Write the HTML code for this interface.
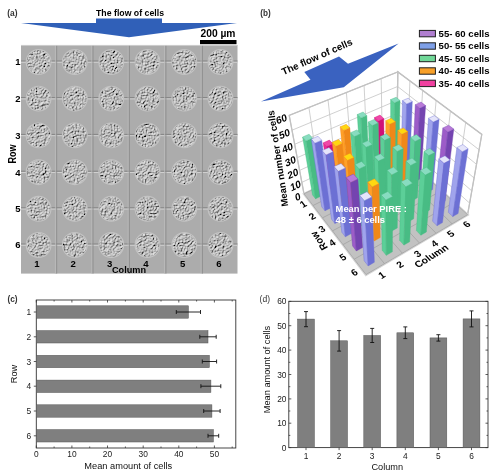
<!DOCTYPE html>
<html><head><meta charset="utf-8"><style>html,body{margin:0;padding:0;background:#fff;}svg{display:block;will-change:transform;filter:blur(0.35px);}</style></head>
<body><svg width="500" height="476" viewBox="0 0 500 476"><defs>
<filter id="tex" x="-10%" y="-10%" width="120%" height="120%">
<feTurbulence type="fractalNoise" baseFrequency="0.9" numOctaves="2" seed="5" result="n"/>
<feColorMatrix in="n" type="matrix" values="0 0 0 0 0  0 0 0 0 0  0 0 0 0 0  1 0 0 0 0" result="a"/>
<feDiffuseLighting in="a" surfaceScale="3.5" diffuseConstant="1" lighting-color="#e2e2e2" result="l"><feDistantLight azimuth="225" elevation="42"/></feDiffuseLighting>
<feComposite in="l" in2="SourceGraphic" operator="in"/>
</filter>
</defs>
<text x="7.2" y="15.8" font-size="8.4" font-weight="bold" fill="#333" font-family="'Liberation Sans', sans-serif">(a)</text>
<text x="130" y="16.3" font-size="9.6" font-weight="bold" text-anchor="middle" font-family="'Liberation Sans', sans-serif" textLength="68" lengthAdjust="spacingAndGlyphs">The flow of cells</text>
<polygon points="21,23 96,23 96,18.6 162,18.6 162,23 237,23 129,37.2" fill="#3060b8"/>
<text x="218" y="37.2" font-size="10" font-weight="bold" text-anchor="middle" font-family="'Liberation Sans', sans-serif" textLength="35" lengthAdjust="spacingAndGlyphs">200 µm</text>
<rect x="200" y="40" width="36.5" height="4.2" fill="#000"/>
<rect x="21" y="45" width="216.5" height="228.6" fill="#acacac"/>
<line x1="21" y1="61.0" x2="237.5" y2="61.0" stroke="#848484" stroke-width="1"/><line x1="21" y1="62.3" x2="237.5" y2="62.3" stroke="#d0d0d0" stroke-width="1"/><line x1="21" y1="97.6" x2="237.5" y2="97.6" stroke="#848484" stroke-width="1"/><line x1="21" y1="98.9" x2="237.5" y2="98.9" stroke="#d0d0d0" stroke-width="1"/><line x1="21" y1="134.4" x2="237.5" y2="134.4" stroke="#848484" stroke-width="1"/><line x1="21" y1="135.7" x2="237.5" y2="135.7" stroke="#d0d0d0" stroke-width="1"/><line x1="21" y1="171.2" x2="237.5" y2="171.2" stroke="#848484" stroke-width="1"/><line x1="21" y1="172.5" x2="237.5" y2="172.5" stroke="#d0d0d0" stroke-width="1"/><line x1="21" y1="207.8" x2="237.5" y2="207.8" stroke="#848484" stroke-width="1"/><line x1="21" y1="209.1" x2="237.5" y2="209.1" stroke="#d0d0d0" stroke-width="1"/><line x1="21" y1="244.0" x2="237.5" y2="244.0" stroke="#848484" stroke-width="1"/><line x1="21" y1="245.3" x2="237.5" y2="245.3" stroke="#d0d0d0" stroke-width="1"/><line x1="55.4" y1="45" x2="55.4" y2="273.6" stroke="#bdbdbd" stroke-width="0.8"/><line x1="56.7" y1="45" x2="56.7" y2="273.6" stroke="#8c8c8c" stroke-width="0.9"/><line x1="91.8" y1="45" x2="91.8" y2="273.6" stroke="#bdbdbd" stroke-width="0.8"/><line x1="93.0" y1="45" x2="93.0" y2="273.6" stroke="#8c8c8c" stroke-width="0.9"/><line x1="128.1" y1="45" x2="128.1" y2="273.6" stroke="#bdbdbd" stroke-width="0.8"/><line x1="129.4" y1="45" x2="129.4" y2="273.6" stroke="#8c8c8c" stroke-width="0.9"/><line x1="164.6" y1="45" x2="164.6" y2="273.6" stroke="#bdbdbd" stroke-width="0.8"/><line x1="165.9" y1="45" x2="165.9" y2="273.6" stroke="#8c8c8c" stroke-width="0.9"/><line x1="201.1" y1="45" x2="201.1" y2="273.6" stroke="#bdbdbd" stroke-width="0.8"/><line x1="202.4" y1="45" x2="202.4" y2="273.6" stroke="#8c8c8c" stroke-width="0.9"/><line x1="21" y1="45.4" x2="237.5" y2="45.4" stroke="#d8d8d8" stroke-width="0.8"/>
<circle cx="38.6" cy="62.0" r="12.4" fill="#acacac" stroke="#c4c4c4" stroke-width="1.1"/>
<circle cx="38.6" cy="62.0" r="11.8" fill="#a0a0a0" filter="url(#tex)" />
<circle cx="74.8" cy="62.0" r="12.4" fill="#acacac" stroke="#c4c4c4" stroke-width="1.1"/>
<circle cx="74.8" cy="62.0" r="11.8" fill="#a0a0a0" filter="url(#tex)" />
<circle cx="111.3" cy="62.0" r="12.4" fill="#acacac" stroke="#c4c4c4" stroke-width="1.1"/>
<circle cx="111.3" cy="62.0" r="11.8" fill="#a0a0a0" filter="url(#tex)" />
<circle cx="147.5" cy="62.0" r="12.4" fill="#acacac" stroke="#c4c4c4" stroke-width="1.1"/>
<circle cx="147.5" cy="62.0" r="11.8" fill="#a0a0a0" filter="url(#tex)" />
<circle cx="184.3" cy="62.0" r="12.4" fill="#acacac" stroke="#c4c4c4" stroke-width="1.1"/>
<circle cx="184.3" cy="62.0" r="11.8" fill="#a0a0a0" filter="url(#tex)" />
<circle cx="220.5" cy="62.0" r="12.4" fill="#acacac" stroke="#c4c4c4" stroke-width="1.1"/>
<circle cx="220.5" cy="62.0" r="11.8" fill="#a0a0a0" filter="url(#tex)" />
<circle cx="38.6" cy="98.6" r="12.4" fill="#acacac" stroke="#c4c4c4" stroke-width="1.1"/>
<circle cx="38.6" cy="98.6" r="11.8" fill="#a0a0a0" filter="url(#tex)" />
<circle cx="74.8" cy="98.6" r="12.4" fill="#acacac" stroke="#c4c4c4" stroke-width="1.1"/>
<circle cx="74.8" cy="98.6" r="11.8" fill="#a0a0a0" filter="url(#tex)" />
<circle cx="111.3" cy="98.6" r="12.4" fill="#acacac" stroke="#c4c4c4" stroke-width="1.1"/>
<circle cx="111.3" cy="98.6" r="11.8" fill="#a0a0a0" filter="url(#tex)" />
<circle cx="147.5" cy="98.6" r="12.4" fill="#acacac" stroke="#c4c4c4" stroke-width="1.1"/>
<circle cx="147.5" cy="98.6" r="11.8" fill="#a0a0a0" filter="url(#tex)" />
<circle cx="184.3" cy="98.6" r="12.4" fill="#acacac" stroke="#c4c4c4" stroke-width="1.1"/>
<circle cx="184.3" cy="98.6" r="11.8" fill="#a0a0a0" filter="url(#tex)" />
<circle cx="220.5" cy="98.6" r="12.4" fill="#acacac" stroke="#c4c4c4" stroke-width="1.1"/>
<circle cx="220.5" cy="98.6" r="11.8" fill="#a0a0a0" filter="url(#tex)" />
<circle cx="38.6" cy="135.4" r="12.4" fill="#acacac" stroke="#c4c4c4" stroke-width="1.1"/>
<circle cx="38.6" cy="135.4" r="11.8" fill="#a0a0a0" filter="url(#tex)" />
<circle cx="74.8" cy="135.4" r="12.4" fill="#acacac" stroke="#c4c4c4" stroke-width="1.1"/>
<circle cx="74.8" cy="135.4" r="11.8" fill="#a0a0a0" filter="url(#tex)" />
<circle cx="111.3" cy="135.4" r="12.4" fill="#acacac" stroke="#c4c4c4" stroke-width="1.1"/>
<circle cx="111.3" cy="135.4" r="11.8" fill="#a0a0a0" filter="url(#tex)" />
<circle cx="147.5" cy="135.4" r="12.4" fill="#acacac" stroke="#c4c4c4" stroke-width="1.1"/>
<circle cx="147.5" cy="135.4" r="11.8" fill="#a0a0a0" filter="url(#tex)" />
<circle cx="184.3" cy="135.4" r="12.4" fill="#acacac" stroke="#c4c4c4" stroke-width="1.1"/>
<circle cx="184.3" cy="135.4" r="11.8" fill="#a0a0a0" filter="url(#tex)" />
<circle cx="220.5" cy="135.4" r="12.4" fill="#acacac" stroke="#c4c4c4" stroke-width="1.1"/>
<circle cx="220.5" cy="135.4" r="11.8" fill="#a0a0a0" filter="url(#tex)" />
<circle cx="38.6" cy="172.2" r="12.4" fill="#acacac" stroke="#c4c4c4" stroke-width="1.1"/>
<circle cx="38.6" cy="172.2" r="11.8" fill="#a0a0a0" filter="url(#tex)" />
<circle cx="74.8" cy="172.2" r="12.4" fill="#acacac" stroke="#c4c4c4" stroke-width="1.1"/>
<circle cx="74.8" cy="172.2" r="11.8" fill="#a0a0a0" filter="url(#tex)" />
<circle cx="111.3" cy="172.2" r="12.4" fill="#acacac" stroke="#c4c4c4" stroke-width="1.1"/>
<circle cx="111.3" cy="172.2" r="11.8" fill="#a0a0a0" filter="url(#tex)" />
<circle cx="147.5" cy="172.2" r="12.4" fill="#acacac" stroke="#c4c4c4" stroke-width="1.1"/>
<circle cx="147.5" cy="172.2" r="11.8" fill="#a0a0a0" filter="url(#tex)" />
<circle cx="184.3" cy="172.2" r="12.4" fill="#acacac" stroke="#c4c4c4" stroke-width="1.1"/>
<circle cx="184.3" cy="172.2" r="11.8" fill="#a0a0a0" filter="url(#tex)" />
<circle cx="220.5" cy="172.2" r="12.4" fill="#acacac" stroke="#c4c4c4" stroke-width="1.1"/>
<circle cx="220.5" cy="172.2" r="11.8" fill="#a0a0a0" filter="url(#tex)" />
<circle cx="38.6" cy="208.8" r="12.4" fill="#acacac" stroke="#c4c4c4" stroke-width="1.1"/>
<circle cx="38.6" cy="208.8" r="11.8" fill="#a0a0a0" filter="url(#tex)" />
<circle cx="74.8" cy="208.8" r="12.4" fill="#acacac" stroke="#c4c4c4" stroke-width="1.1"/>
<circle cx="74.8" cy="208.8" r="11.8" fill="#a0a0a0" filter="url(#tex)" />
<circle cx="111.3" cy="208.8" r="12.4" fill="#acacac" stroke="#c4c4c4" stroke-width="1.1"/>
<circle cx="111.3" cy="208.8" r="11.8" fill="#a0a0a0" filter="url(#tex)" />
<circle cx="147.5" cy="208.8" r="12.4" fill="#acacac" stroke="#c4c4c4" stroke-width="1.1"/>
<circle cx="147.5" cy="208.8" r="11.8" fill="#a0a0a0" filter="url(#tex)" />
<circle cx="184.3" cy="208.8" r="12.4" fill="#acacac" stroke="#c4c4c4" stroke-width="1.1"/>
<circle cx="184.3" cy="208.8" r="11.8" fill="#a0a0a0" filter="url(#tex)" />
<circle cx="220.5" cy="208.8" r="12.4" fill="#acacac" stroke="#c4c4c4" stroke-width="1.1"/>
<circle cx="220.5" cy="208.8" r="11.8" fill="#a0a0a0" filter="url(#tex)" />
<circle cx="38.6" cy="245.0" r="12.4" fill="#acacac" stroke="#c4c4c4" stroke-width="1.1"/>
<circle cx="38.6" cy="245.0" r="11.8" fill="#a0a0a0" filter="url(#tex)" />
<circle cx="74.8" cy="245.0" r="12.4" fill="#acacac" stroke="#c4c4c4" stroke-width="1.1"/>
<circle cx="74.8" cy="245.0" r="11.8" fill="#a0a0a0" filter="url(#tex)" />
<circle cx="111.3" cy="245.0" r="12.4" fill="#acacac" stroke="#c4c4c4" stroke-width="1.1"/>
<circle cx="111.3" cy="245.0" r="11.8" fill="#a0a0a0" filter="url(#tex)" />
<circle cx="147.5" cy="245.0" r="12.4" fill="#acacac" stroke="#c4c4c4" stroke-width="1.1"/>
<circle cx="147.5" cy="245.0" r="11.8" fill="#a0a0a0" filter="url(#tex)" />
<circle cx="184.3" cy="245.0" r="12.4" fill="#acacac" stroke="#c4c4c4" stroke-width="1.1"/>
<circle cx="184.3" cy="245.0" r="11.8" fill="#a0a0a0" filter="url(#tex)" />
<circle cx="220.5" cy="245.0" r="12.4" fill="#acacac" stroke="#c4c4c4" stroke-width="1.1"/>
<circle cx="220.5" cy="245.0" r="11.8" fill="#a0a0a0" filter="url(#tex)" />
<text x="17.8" y="65.4" font-size="9.5" font-weight="bold" text-anchor="middle" font-family="'Liberation Sans', sans-serif">1</text>
<text x="17.8" y="102.0" font-size="9.5" font-weight="bold" text-anchor="middle" font-family="'Liberation Sans', sans-serif">2</text>
<text x="17.8" y="138.8" font-size="9.5" font-weight="bold" text-anchor="middle" font-family="'Liberation Sans', sans-serif">3</text>
<text x="17.8" y="175.6" font-size="9.5" font-weight="bold" text-anchor="middle" font-family="'Liberation Sans', sans-serif">4</text>
<text x="17.8" y="212.2" font-size="9.5" font-weight="bold" text-anchor="middle" font-family="'Liberation Sans', sans-serif">5</text>
<text x="17.8" y="248.4" font-size="9.5" font-weight="bold" text-anchor="middle" font-family="'Liberation Sans', sans-serif">6</text>
<text transform="translate(15.9,154) rotate(-90)" font-size="10.2" font-weight="bold" text-anchor="middle" font-family="'Liberation Sans', sans-serif" textLength="19" lengthAdjust="spacingAndGlyphs">Row</text>
<text x="36.9" y="267.2" font-size="9.6" font-weight="bold" text-anchor="middle" font-family="'Liberation Sans', sans-serif">1</text>
<text x="73.1" y="267.2" font-size="9.6" font-weight="bold" text-anchor="middle" font-family="'Liberation Sans', sans-serif">2</text>
<text x="109.6" y="267.2" font-size="9.6" font-weight="bold" text-anchor="middle" font-family="'Liberation Sans', sans-serif">3</text>
<text x="145.8" y="267.2" font-size="9.6" font-weight="bold" text-anchor="middle" font-family="'Liberation Sans', sans-serif">4</text>
<text x="182.6" y="267.2" font-size="9.6" font-weight="bold" text-anchor="middle" font-family="'Liberation Sans', sans-serif">5</text>
<text x="218.8" y="267.2" font-size="9.6" font-weight="bold" text-anchor="middle" font-family="'Liberation Sans', sans-serif">6</text>
<text x="129" y="273.4" font-size="9.4" font-weight="bold" text-anchor="middle" font-family="'Liberation Sans', sans-serif" textLength="34" lengthAdjust="spacingAndGlyphs">Column</text>
<text x="260.2" y="15.8" font-size="8.2" font-weight="bold" fill="#333" font-family="'Liberation Sans', sans-serif">(b)</text>
<polygon points="261,101.4 310.5,79.8 304.3,72 339,56.4 348,63.8 398.6,43.6 343.8,87.2" fill="#3a62c0"/>
<text transform="translate(318.3,59.8) rotate(-24)" font-size="9.8" font-weight="bold" text-anchor="middle" font-family="'Liberation Sans', sans-serif">The flow of cells</text>
<rect x="419.4" y="30.4" width="16" height="6.4" fill="#b07ed0" stroke="#202020" stroke-width="1"/>
<text x="438.6" y="37.0" font-size="9.55" font-weight="bold" font-family="'Liberation Sans', sans-serif">55- 60 cells</text>
<rect x="419.4" y="42.8" width="16" height="6.4" fill="#7fa0e8" stroke="#202020" stroke-width="1"/>
<text x="438.6" y="49.4" font-size="9.55" font-weight="bold" font-family="'Liberation Sans', sans-serif">50- 55 cells</text>
<rect x="419.4" y="55.3" width="16" height="6.4" fill="#70d898" stroke="#202020" stroke-width="1"/>
<text x="438.6" y="61.9" font-size="9.55" font-weight="bold" font-family="'Liberation Sans', sans-serif">45- 50 cells</text>
<rect x="419.4" y="67.8" width="16" height="6.4" fill="#f8a028" stroke="#202020" stroke-width="1"/>
<text x="438.6" y="74.3" font-size="9.55" font-weight="bold" font-family="'Liberation Sans', sans-serif">40- 45 cells</text>
<rect x="419.4" y="80.2" width="16" height="6.4" fill="#f040a0" stroke="#202020" stroke-width="1"/>
<text x="438.6" y="86.8" font-size="9.55" font-weight="bold" font-family="'Liberation Sans', sans-serif">35- 40 cells</text>
<polygon points="304.0,193.8 396.8,149.4 397.8,71.9 289.2,115.3" fill="#fff" stroke="#bcbcbc" stroke-width="1.3"/>
<polygon points="396.8,149.4 467.6,214.7 481.8,134.4 397.8,71.9" fill="#fff" stroke="#bcbcbc" stroke-width="1.3"/>
<line x1="304.0" y1="193.8" x2="289.2" y2="115.3" stroke="#c4c4c4" stroke-width="0.8"/><line x1="320.7" y1="185.8" x2="308.9" y2="107.4" stroke="#c4c4c4" stroke-width="0.8"/><line x1="336.8" y1="178.1" x2="328.0" y2="99.8" stroke="#c4c4c4" stroke-width="0.8"/><line x1="352.5" y1="170.6" x2="346.4" y2="92.5" stroke="#c4c4c4" stroke-width="0.8"/><line x1="367.7" y1="163.3" x2="364.1" y2="85.4" stroke="#c4c4c4" stroke-width="0.8"/><line x1="382.5" y1="156.2" x2="381.2" y2="78.5" stroke="#c4c4c4" stroke-width="0.8"/><line x1="396.8" y1="149.4" x2="397.8" y2="71.9" stroke="#c4c4c4" stroke-width="0.8"/><line x1="396.8" y1="149.4" x2="397.8" y2="71.9" stroke="#c4c4c4" stroke-width="0.8"/><line x1="407.2" y1="158.9" x2="409.9" y2="80.9" stroke="#c4c4c4" stroke-width="0.8"/><line x1="418.1" y1="169.0" x2="422.6" y2="90.4" stroke="#c4c4c4" stroke-width="0.8"/><line x1="429.5" y1="179.6" x2="436.1" y2="100.4" stroke="#c4c4c4" stroke-width="0.8"/><line x1="441.6" y1="190.7" x2="450.4" y2="111.1" stroke="#c4c4c4" stroke-width="0.8"/><line x1="454.2" y1="202.4" x2="465.7" y2="122.4" stroke="#c4c4c4" stroke-width="0.8"/><line x1="467.6" y1="214.7" x2="481.8" y2="134.4" stroke="#c4c4c4" stroke-width="0.8"/><line x1="304.0" y1="193.8" x2="396.8" y2="149.4" stroke="#c4c4c4" stroke-width="0.8"/><line x1="396.8" y1="149.4" x2="467.6" y2="214.7" stroke="#c4c4c4" stroke-width="0.8"/><line x1="301.8" y1="182.4" x2="396.9" y2="137.9" stroke="#c4c4c4" stroke-width="0.8"/><line x1="396.9" y1="137.9" x2="469.6" y2="203.1" stroke="#c4c4c4" stroke-width="0.8"/><line x1="299.6" y1="170.4" x2="397.1" y2="126.0" stroke="#c4c4c4" stroke-width="0.8"/><line x1="397.1" y1="126.0" x2="471.8" y2="190.9" stroke="#c4c4c4" stroke-width="0.8"/><line x1="297.2" y1="157.7" x2="397.3" y2="113.4" stroke="#c4c4c4" stroke-width="0.8"/><line x1="397.3" y1="113.4" x2="474.1" y2="178.0" stroke="#c4c4c4" stroke-width="0.8"/><line x1="294.6" y1="144.3" x2="397.4" y2="100.3" stroke="#c4c4c4" stroke-width="0.8"/><line x1="397.4" y1="100.3" x2="476.5" y2="164.3" stroke="#c4c4c4" stroke-width="0.8"/><line x1="292.0" y1="130.2" x2="397.6" y2="86.5" stroke="#c4c4c4" stroke-width="0.8"/><line x1="397.6" y1="86.5" x2="479.1" y2="149.8" stroke="#c4c4c4" stroke-width="0.8"/><line x1="289.2" y1="115.3" x2="397.8" y2="71.9" stroke="#c4c4c4" stroke-width="0.8"/><line x1="397.8" y1="71.9" x2="481.8" y2="134.4" stroke="#c4c4c4" stroke-width="0.8"/>
<polygon points="302.2,193.6 397.1,148.2 469.6,215.0 365.6,276.5" fill="#d6d6d6"/>
<polygon points="304.0,193.8 396.8,149.4 467.6,214.7 366.0,274.6" fill="#c2c2c2"/>
<line x1="304.0" y1="193.8" x2="366.0" y2="274.6" stroke="#a2a2a2" stroke-width="0.8"/><line x1="320.7" y1="185.8" x2="384.5" y2="263.7" stroke="#a2a2a2" stroke-width="0.8"/><line x1="336.8" y1="178.1" x2="402.3" y2="253.2" stroke="#a2a2a2" stroke-width="0.8"/><line x1="352.5" y1="170.6" x2="419.5" y2="243.1" stroke="#a2a2a2" stroke-width="0.8"/><line x1="367.7" y1="163.3" x2="436.1" y2="233.3" stroke="#a2a2a2" stroke-width="0.8"/><line x1="382.5" y1="156.2" x2="452.1" y2="223.8" stroke="#a2a2a2" stroke-width="0.8"/><line x1="396.8" y1="149.4" x2="467.6" y2="214.7" stroke="#a2a2a2" stroke-width="0.8"/><line x1="304.0" y1="193.8" x2="396.8" y2="149.4" stroke="#a2a2a2" stroke-width="0.8"/><line x1="313.0" y1="205.5" x2="407.2" y2="158.9" stroke="#a2a2a2" stroke-width="0.8"/><line x1="322.4" y1="217.9" x2="418.1" y2="169.0" stroke="#a2a2a2" stroke-width="0.8"/><line x1="332.4" y1="230.9" x2="429.5" y2="179.6" stroke="#a2a2a2" stroke-width="0.8"/><line x1="343.0" y1="244.6" x2="441.6" y2="190.7" stroke="#a2a2a2" stroke-width="0.8"/><line x1="354.2" y1="259.2" x2="454.2" y2="202.4" stroke="#a2a2a2" stroke-width="0.8"/><line x1="366.0" y1="274.6" x2="467.6" y2="214.7" stroke="#a2a2a2" stroke-width="0.8"/>
<polygon points="390.6,157.1 394.1,160.4 394.5,102.8 390.6,99.6" fill="#5ccf98" stroke="#48bc84" stroke-width="0.4"/>
<polygon points="394.1,160.4 399.0,158.0 400.0,100.4 394.5,102.8" fill="#48bc84" stroke="#48bc84" stroke-width="0.4"/>
<polygon points="390.6,99.6 394.5,102.8 400.0,100.4 396.1,97.3" fill="#88dcc0" stroke="#48bc84" stroke-width="0.4"/>
<polygon points="375.9,164.2 379.3,167.7 378.3,120.9 374.5,117.6" fill="#f02898" stroke="#d01078" stroke-width="0.4"/>
<polygon points="379.3,167.7 384.4,165.2 383.8,118.5 378.3,120.9" fill="#d01078" stroke="#d01078" stroke-width="0.4"/>
<polygon points="374.5,117.6 378.3,120.9 383.8,118.5 380.0,115.1" fill="#f048a8" stroke="#d01078" stroke-width="0.4"/>
<polygon points="401.0,167.1 404.7,170.6 406.7,103.9 402.5,100.6" fill="#a0a4ec" stroke="#6c70d4" stroke-width="0.4"/>
<polygon points="404.7,170.6 409.6,168.1 412.3,101.5 406.7,103.9" fill="#6c70d4" stroke="#6c70d4" stroke-width="0.4"/>
<polygon points="402.5,100.6 406.7,103.9 412.3,101.5 408.1,98.2" fill="#e4e4fa" stroke="#6c70d4" stroke-width="0.4"/>
<polygon points="360.8,171.5 364.1,175.1 361.0,117.9 357.3,114.5" fill="#5ccf98" stroke="#48bc84" stroke-width="0.4"/>
<polygon points="364.1,175.1 369.3,172.5 366.8,115.4 361.0,117.9" fill="#48bc84" stroke="#48bc84" stroke-width="0.4"/>
<polygon points="357.3,114.5 361.0,117.9 366.8,115.4 363.1,112.0" fill="#88dcc0" stroke="#48bc84" stroke-width="0.4"/>
<polygon points="386.1,174.5 389.7,178.1 389.7,124.2 385.7,120.7" fill="#ffa028" stroke="#f08818" stroke-width="0.4"/>
<polygon points="389.7,178.1 394.9,175.5 395.4,121.7 389.7,124.2" fill="#f08818" stroke="#f08818" stroke-width="0.4"/>
<polygon points="385.7,120.7 389.7,124.2 395.4,121.7 391.3,118.2" fill="#ffd810" stroke="#f08818" stroke-width="0.4"/>
<polygon points="411.9,177.5 415.8,181.2 419.8,108.2 415.3,104.7" fill="#9c5cc8" stroke="#7444b0" stroke-width="0.4"/>
<polygon points="415.8,181.2 420.8,178.6 425.6,105.6 419.8,108.2" fill="#7444b0" stroke="#7444b0" stroke-width="0.4"/>
<polygon points="415.3,104.7 419.8,108.2 425.6,105.6 421.1,102.1" fill="#b87ad8" stroke="#7444b0" stroke-width="0.4"/>
<polygon points="345.2,179.1 348.5,182.8 343.8,130.4 340.2,126.8" fill="#ffa028" stroke="#f08818" stroke-width="0.4"/>
<polygon points="348.5,182.8 353.8,180.1 349.8,127.8 343.8,130.4" fill="#f08818" stroke="#f08818" stroke-width="0.4"/>
<polygon points="340.2,126.8 343.8,130.4 349.8,127.8 346.2,124.3" fill="#ffd810" stroke="#f08818" stroke-width="0.4"/>
<polygon points="370.8,182.2 374.3,185.9 372.2,125.6 368.3,122.0" fill="#5ccf98" stroke="#48bc84" stroke-width="0.4"/>
<polygon points="374.3,185.9 379.6,183.2 378.2,122.9 372.2,125.6" fill="#48bc84" stroke="#48bc84" stroke-width="0.4"/>
<polygon points="368.3,122.0 372.2,125.6 378.2,122.9 374.2,119.4" fill="#88dcc0" stroke="#48bc84" stroke-width="0.4"/>
<polygon points="396.9,185.3 400.7,189.1 401.9,134.3 397.7,130.6" fill="#ffa028" stroke="#f08818" stroke-width="0.4"/>
<polygon points="400.7,189.1 405.9,186.4 407.7,131.6 401.9,134.3" fill="#f08818" stroke="#f08818" stroke-width="0.4"/>
<polygon points="397.7,130.6 401.9,134.3 407.7,131.6 403.4,127.9" fill="#ffd810" stroke="#f08818" stroke-width="0.4"/>
<polygon points="423.5,188.5 427.5,192.4 433.2,122.0 428.5,118.3" fill="#a0a4ec" stroke="#6c70d4" stroke-width="0.4"/>
<polygon points="427.5,192.4 432.6,189.6 439.1,119.3 433.2,122.0" fill="#6c70d4" stroke="#6c70d4" stroke-width="0.4"/>
<polygon points="428.5,118.3 433.2,122.0 439.1,119.3 434.3,115.6" fill="#e4e4fa" stroke="#6c70d4" stroke-width="0.4"/>
<polygon points="329.1,186.9 332.3,190.7 326.7,146.5 323.3,142.8" fill="#f02898" stroke="#d01078" stroke-width="0.4"/>
<polygon points="332.3,190.7 337.8,188.0 332.8,143.8 326.7,146.5" fill="#d01078" stroke="#d01078" stroke-width="0.4"/>
<polygon points="323.3,142.8 326.7,146.5 332.8,143.8 329.4,140.1" fill="#f048a8" stroke="#d01078" stroke-width="0.4"/>
<polygon points="355.0,190.1 358.4,193.9 354.4,136.5 350.6,132.7" fill="#5ccf98" stroke="#48bc84" stroke-width="0.4"/>
<polygon points="358.4,193.9 363.9,191.2 360.6,133.7 354.4,136.5" fill="#48bc84" stroke="#48bc84" stroke-width="0.4"/>
<polygon points="350.6,132.7 354.4,136.5 360.6,133.7 356.7,130.0" fill="#88dcc0" stroke="#48bc84" stroke-width="0.4"/>
<polygon points="381.3,193.3 385.0,197.3 384.4,140.3 380.2,136.5" fill="#5ccf98" stroke="#48bc84" stroke-width="0.4"/>
<polygon points="385.0,197.3 390.4,194.5 390.4,137.5 384.4,140.3" fill="#48bc84" stroke="#48bc84" stroke-width="0.4"/>
<polygon points="380.2,136.5 384.4,140.3 390.4,137.5 386.2,133.7" fill="#88dcc0" stroke="#48bc84" stroke-width="0.4"/>
<polygon points="408.2,196.7 412.2,200.7 415.0,141.4 410.5,137.4" fill="#5ccf98" stroke="#48bc84" stroke-width="0.4"/>
<polygon points="412.2,200.7 417.4,197.8 421.0,138.5 415.0,141.4" fill="#48bc84" stroke="#48bc84" stroke-width="0.4"/>
<polygon points="410.5,137.4 415.0,141.4 421.0,138.5 416.4,134.6" fill="#88dcc0" stroke="#48bc84" stroke-width="0.4"/>
<polygon points="435.6,200.1 439.8,204.1 447.9,132.0 442.8,128.0" fill="#9c5cc8" stroke="#7444b0" stroke-width="0.4"/>
<polygon points="439.8,204.1 445.0,201.2 453.8,129.1 447.9,132.0" fill="#7444b0" stroke="#7444b0" stroke-width="0.4"/>
<polygon points="442.8,128.0 447.9,132.0 453.8,129.1 448.7,125.2" fill="#b87ad8" stroke="#7444b0" stroke-width="0.4"/>
<polygon points="312.5,194.9 315.6,198.8 306.0,140.9 302.6,137.0" fill="#5ccf98" stroke="#48bc84" stroke-width="0.4"/>
<polygon points="315.6,198.8 321.3,196.0 312.5,138.1 306.0,140.9" fill="#48bc84" stroke="#48bc84" stroke-width="0.4"/>
<polygon points="302.6,137.0 306.0,140.9 312.5,138.1 309.1,134.2" fill="#88dcc0" stroke="#48bc84" stroke-width="0.4"/>
<polygon points="338.6,198.2 342.0,202.2 335.9,146.2 332.2,142.3" fill="#ffa028" stroke="#f08818" stroke-width="0.4"/>
<polygon points="342.0,202.2 347.6,199.4 342.3,143.3 335.9,146.2" fill="#f08818" stroke="#f08818" stroke-width="0.4"/>
<polygon points="332.2,142.3 335.9,146.2 342.3,143.3 338.6,139.5" fill="#ffd810" stroke="#f08818" stroke-width="0.4"/>
<polygon points="365.2,201.6 368.9,205.7 366.1,147.3 362.0,143.3" fill="#5ccf98" stroke="#48bc84" stroke-width="0.4"/>
<polygon points="368.9,205.7 374.4,202.8 372.3,144.4 366.1,147.3" fill="#48bc84" stroke="#48bc84" stroke-width="0.4"/>
<polygon points="362.0,143.3 366.1,147.3 372.3,144.4 368.2,140.5" fill="#88dcc0" stroke="#48bc84" stroke-width="0.4"/>
<polygon points="392.4,205.1 396.3,209.3 397.1,151.4 392.7,147.3" fill="#5ccf98" stroke="#48bc84" stroke-width="0.4"/>
<polygon points="396.3,209.3 401.7,206.3 403.2,148.5 397.1,151.4" fill="#48bc84" stroke="#48bc84" stroke-width="0.4"/>
<polygon points="392.7,147.3 397.1,151.4 403.2,148.5 398.8,144.4" fill="#88dcc0" stroke="#48bc84" stroke-width="0.4"/>
<polygon points="420.1,208.7 424.3,212.9 428.7,155.6 424.0,151.4" fill="#5ccf98" stroke="#48bc84" stroke-width="0.4"/>
<polygon points="424.3,212.9 429.6,209.9 434.8,152.6 428.7,155.6" fill="#48bc84" stroke="#48bc84" stroke-width="0.4"/>
<polygon points="424.0,151.4 428.7,155.6 434.8,152.6 429.9,148.4" fill="#88dcc0" stroke="#48bc84" stroke-width="0.4"/>
<polygon points="448.3,212.3 452.8,216.6 462.2,151.7 456.9,147.5" fill="#a0a4ec" stroke="#6c70d4" stroke-width="0.4"/>
<polygon points="452.8,216.6 458.1,213.5 468.1,148.7 462.2,151.7" fill="#6c70d4" stroke="#6c70d4" stroke-width="0.4"/>
<polygon points="456.9,147.5 462.2,151.7 468.1,148.7 462.9,144.5" fill="#e4e4fa" stroke="#6c70d4" stroke-width="0.4"/>
<polygon points="321.7,206.7 325.0,210.8 314.9,143.2 311.3,139.1" fill="#a0a4ec" stroke="#6c70d4" stroke-width="0.4"/>
<polygon points="325.0,210.8 330.8,207.9 321.7,140.2 314.9,143.2" fill="#6c70d4" stroke="#6c70d4" stroke-width="0.4"/>
<polygon points="311.3,139.1 314.9,143.2 321.7,140.2 318.0,136.2" fill="#e4e4fa" stroke="#6c70d4" stroke-width="0.4"/>
<polygon points="348.6,210.2 352.2,214.4 347.4,160.4 343.5,156.2" fill="#ffa028" stroke="#f08818" stroke-width="0.4"/>
<polygon points="352.2,214.4 357.9,211.4 353.9,157.4 347.4,160.4" fill="#f08818" stroke="#f08818" stroke-width="0.4"/>
<polygon points="343.5,156.2 347.4,160.4 353.9,157.4 350.0,153.2" fill="#ffd810" stroke="#f08818" stroke-width="0.4"/>
<polygon points="376.1,213.8 379.9,218.1 378.5,161.1 374.2,156.8" fill="#5ccf98" stroke="#48bc84" stroke-width="0.4"/>
<polygon points="379.9,218.1 385.5,215.1 384.9,158.0 378.5,161.1" fill="#48bc84" stroke="#48bc84" stroke-width="0.4"/>
<polygon points="374.2,156.8 378.5,161.1 384.9,158.0 380.6,153.8" fill="#88dcc0" stroke="#48bc84" stroke-width="0.4"/>
<polygon points="404.1,217.5 408.2,221.9 410.6,165.4 405.9,161.1" fill="#5ccf98" stroke="#48bc84" stroke-width="0.4"/>
<polygon points="408.2,221.9 413.7,218.8 416.8,162.3 410.6,165.4" fill="#48bc84" stroke="#48bc84" stroke-width="0.4"/>
<polygon points="405.9,161.1 410.6,165.4 416.8,162.3 412.1,158.0" fill="#88dcc0" stroke="#48bc84" stroke-width="0.4"/>
<polygon points="432.6,221.3 437.1,225.7 444.0,163.3 438.8,158.8" fill="#a0a4ec" stroke="#6c70d4" stroke-width="0.4"/>
<polygon points="437.1,225.7 442.5,222.6 450.1,160.1 444.0,163.3" fill="#6c70d4" stroke="#6c70d4" stroke-width="0.4"/>
<polygon points="438.8,158.8 444.0,163.3 450.1,160.1 445.0,155.7" fill="#e4e4fa" stroke="#6c70d4" stroke-width="0.4"/>
<polygon points="331.5,219.1 334.9,223.5 326.0,155.0 322.1,150.6" fill="#a0a4ec" stroke="#6c70d4" stroke-width="0.4"/>
<polygon points="334.9,223.5 340.8,220.4 333.0,151.8 326.0,155.0" fill="#6c70d4" stroke="#6c70d4" stroke-width="0.4"/>
<polygon points="322.1,150.6 326.0,155.0 333.0,151.8 329.0,147.5" fill="#e4e4fa" stroke="#6c70d4" stroke-width="0.4"/>
<polygon points="359.2,222.9 362.9,227.3 359.2,168.9 355.0,164.5" fill="#5ccf98" stroke="#48bc84" stroke-width="0.4"/>
<polygon points="362.9,227.3 368.8,224.1 365.8,165.7 359.2,168.9" fill="#48bc84" stroke="#48bc84" stroke-width="0.4"/>
<polygon points="355.0,164.5 359.2,168.9 365.8,165.7 361.6,161.4" fill="#88dcc0" stroke="#48bc84" stroke-width="0.4"/>
<polygon points="387.5,226.7 391.5,231.2 391.7,174.9 387.1,170.3" fill="#5ccf98" stroke="#48bc84" stroke-width="0.4"/>
<polygon points="391.5,231.2 397.3,228.0 398.2,171.6 391.7,174.9" fill="#48bc84" stroke="#48bc84" stroke-width="0.4"/>
<polygon points="387.1,170.3 391.7,174.9 398.2,171.6 393.6,167.1" fill="#88dcc0" stroke="#48bc84" stroke-width="0.4"/>
<polygon points="416.4,230.6 420.8,235.2 425.2,175.1 420.2,170.5" fill="#5ccf98" stroke="#48bc84" stroke-width="0.4"/>
<polygon points="420.8,235.2 426.4,232.0 431.6,171.8 425.2,175.1" fill="#48bc84" stroke="#48bc84" stroke-width="0.4"/>
<polygon points="420.2,170.5 425.2,175.1 431.6,171.8 426.5,167.2" fill="#88dcc0" stroke="#48bc84" stroke-width="0.4"/>
<polygon points="341.8,232.2 345.4,236.8 338.3,171.3 334.1,166.6" fill="#a0a4ec" stroke="#6c70d4" stroke-width="0.4"/>
<polygon points="345.4,236.8 351.4,233.5 345.3,167.9 338.3,171.3" fill="#6c70d4" stroke="#6c70d4" stroke-width="0.4"/>
<polygon points="334.1,166.6 338.3,171.3 345.3,167.9 341.1,163.4" fill="#e4e4fa" stroke="#6c70d4" stroke-width="0.4"/>
<polygon points="370.4,236.2 374.3,240.9 372.2,186.9 367.8,182.1" fill="#ffa028" stroke="#f08818" stroke-width="0.4"/>
<polygon points="374.3,240.9 380.2,237.6 378.9,183.5 372.2,186.9" fill="#f08818" stroke="#f08818" stroke-width="0.4"/>
<polygon points="367.8,182.1 372.2,186.9 378.9,183.5 374.5,178.8" fill="#ffd810" stroke="#f08818" stroke-width="0.4"/>
<polygon points="399.6,240.3 403.9,245.1 405.8,186.7 400.9,181.8" fill="#5ccf98" stroke="#48bc84" stroke-width="0.4"/>
<polygon points="403.9,245.1 409.7,241.7 412.5,183.2 405.8,186.7" fill="#48bc84" stroke="#48bc84" stroke-width="0.4"/>
<polygon points="400.9,181.8 405.8,186.7 412.5,183.2 407.5,178.4" fill="#88dcc0" stroke="#48bc84" stroke-width="0.4"/>
<polygon points="352.6,246.0 356.4,250.9 350.7,182.5 346.2,177.6" fill="#9c5cc8" stroke="#7444b0" stroke-width="0.4"/>
<polygon points="356.4,250.9 362.6,247.5 357.9,179.0 350.7,182.5" fill="#7444b0" stroke="#7444b0" stroke-width="0.4"/>
<polygon points="346.2,177.6 350.7,182.5 357.9,179.0 353.4,174.1" fill="#b87ad8" stroke="#7444b0" stroke-width="0.4"/>
<polygon points="382.2,250.3 386.3,255.3 385.8,200.0 381.1,195.0" fill="#5ccf98" stroke="#48bc84" stroke-width="0.4"/>
<polygon points="386.3,255.3 392.4,251.8 392.7,196.4 385.8,200.0" fill="#48bc84" stroke="#48bc84" stroke-width="0.4"/>
<polygon points="381.1,195.0 385.8,200.0 392.7,196.4 387.9,191.4" fill="#88dcc0" stroke="#48bc84" stroke-width="0.4"/>
<polygon points="364.1,260.7 368.2,265.9 364.4,200.7 359.7,195.4" fill="#a0a4ec" stroke="#6c70d4" stroke-width="0.4"/>
<polygon points="368.2,265.9 374.4,262.2 371.8,196.9 364.4,200.7" fill="#6c70d4" stroke="#6c70d4" stroke-width="0.4"/>
<polygon points="359.7,195.4 364.4,200.7 371.8,196.9 367.0,191.7" fill="#e4e4fa" stroke="#6c70d4" stroke-width="0.4"/>
<text transform="matrix(0.901,-0.433,0.207,0.978,297.9,196.8)" font-size="10.2" font-weight="bold" text-anchor="middle" dy="0.36em" font-family="'Liberation Sans', sans-serif">0</text>
<text transform="matrix(0.905,-0.425,0.207,0.978,295.5,185.5)" font-size="10.2" font-weight="bold" text-anchor="middle" dy="0.36em" font-family="'Liberation Sans', sans-serif">10</text>
<text transform="matrix(0.909,-0.416,0.207,0.978,293.0,173.5)" font-size="10.2" font-weight="bold" text-anchor="middle" dy="0.36em" font-family="'Liberation Sans', sans-serif">20</text>
<text transform="matrix(0.914,-0.406,0.207,0.978,290.4,161.0)" font-size="10.2" font-weight="bold" text-anchor="middle" dy="0.36em" font-family="'Liberation Sans', sans-serif">30</text>
<text transform="matrix(0.918,-0.396,0.207,0.978,287.5,147.7)" font-size="10.2" font-weight="bold" text-anchor="middle" dy="0.36em" font-family="'Liberation Sans', sans-serif">40</text>
<text transform="matrix(0.923,-0.385,0.207,0.978,284.6,133.7)" font-size="10.2" font-weight="bold" text-anchor="middle" dy="0.36em" font-family="'Liberation Sans', sans-serif">50</text>
<text transform="matrix(0.928,-0.373,0.207,0.978,281.4,118.9)" font-size="10.2" font-weight="bold" text-anchor="middle" dy="0.36em" font-family="'Liberation Sans', sans-serif">60</text>
<text transform="translate(277.8,158.5) rotate(-98.5)" font-size="9.5" font-weight="bold" text-anchor="middle" dy="0.36em" font-family="'Liberation Sans', sans-serif">Mean number of cells</text>
<text transform="matrix(0.899,-0.439,0.599,0.801,303.0,203.9)" font-size="9.8" font-weight="bold" text-anchor="middle" dy="0.36em" font-family="'Liberation Sans', sans-serif" >1</text>
<text transform="matrix(0.893,-0.450,0.599,0.801,312.1,216.1)" font-size="9.8" font-weight="bold" text-anchor="middle" dy="0.36em" font-family="'Liberation Sans', sans-serif" >2</text>
<text transform="matrix(0.887,-0.462,0.599,0.801,321.8,229.0)" font-size="9.8" font-weight="bold" text-anchor="middle" dy="0.36em" font-family="'Liberation Sans', sans-serif" >3</text>
<text transform="matrix(0.880,-0.475,0.599,0.801,332.0,242.7)" font-size="9.8" font-weight="bold" text-anchor="middle" dy="0.36em" font-family="'Liberation Sans', sans-serif" >4</text>
<text transform="matrix(0.873,-0.488,0.599,0.801,342.8,257.1)" font-size="9.8" font-weight="bold" text-anchor="middle" dy="0.36em" font-family="'Liberation Sans', sans-serif" >5</text>
<text transform="matrix(0.865,-0.502,0.599,0.801,354.2,272.4)" font-size="9.8" font-weight="bold" text-anchor="middle" dy="0.36em" font-family="'Liberation Sans', sans-serif" >6</text>
<text transform="matrix(-0.587,-0.810,0.883,-0.469,319.0,241.0)" font-size="9.9" font-weight="bold" text-anchor="middle" dy="0.36em" font-family="'Liberation Sans', sans-serif" >Row</text>
<text transform="matrix(0.857,-0.514,0.623,0.782,381.6,275.2)" font-size="9.8" font-weight="bold" text-anchor="middle" dy="0.36em" font-family="'Liberation Sans', sans-serif" >1</text>
<text transform="matrix(0.857,-0.514,0.647,0.763,399.8,264.3)" font-size="9.8" font-weight="bold" text-anchor="middle" dy="0.36em" font-family="'Liberation Sans', sans-serif" >2</text>
<text transform="matrix(0.857,-0.514,0.669,0.743,417.4,253.7)" font-size="9.8" font-weight="bold" text-anchor="middle" dy="0.36em" font-family="'Liberation Sans', sans-serif" >3</text>
<text transform="matrix(0.857,-0.514,0.690,0.724,434.3,243.5)" font-size="9.8" font-weight="bold" text-anchor="middle" dy="0.36em" font-family="'Liberation Sans', sans-serif" >4</text>
<text transform="matrix(0.857,-0.514,0.709,0.705,450.7,233.7)" font-size="9.8" font-weight="bold" text-anchor="middle" dy="0.36em" font-family="'Liberation Sans', sans-serif" >5</text>
<text transform="matrix(0.857,-0.514,0.727,0.687,466.5,224.3)" font-size="9.8" font-weight="bold" text-anchor="middle" dy="0.36em" font-family="'Liberation Sans', sans-serif" >6</text>
<text transform="matrix(0.853,-0.522,0.679,0.734,431.3,255.9)" font-size="9.9" font-weight="bold" text-anchor="middle" dy="0.36em" font-family="'Liberation Sans', sans-serif" >Column</text>
<text x="335.6" y="211.7" font-size="9.4" font-weight="bold" fill="#fff" font-family="'Liberation Sans', sans-serif">Mean per PIRE :</text>
<text x="335.6" y="223.2" font-size="9.4" font-weight="bold" fill="#fff" font-family="'Liberation Sans', sans-serif">48 ± 6 cells</text>
<text x="7.4" y="302" font-size="8.3" font-weight="bold" fill="#333" font-family="'Liberation Sans', sans-serif">(c)</text>
<rect x="36.3" y="300" width="199.5" height="148" fill="#fff" stroke="#333" stroke-width="0.9"/>
<rect x="36.3" y="305.8" width="152.1" height="12.4" fill="#7f7f7f" stroke="#555" stroke-width="0.5"/>
<path d="M176.3,312.0H200.5M176.3,310.0V314.0M200.5,310.0V314.0" stroke="#111" stroke-width="0.9" fill="none"/>
<text x="31.2" y="315.0" font-size="8.4" fill="#222" text-anchor="end" font-family="'Liberation Sans', sans-serif">1</text>
<line x1="33.8" y1="312.0" x2="36.3" y2="312.0" stroke="#333" stroke-width="0.8"/>
<rect x="36.3" y="330.6" width="171.7" height="12.4" fill="#7f7f7f" stroke="#555" stroke-width="0.5"/>
<path d="M199.8,336.8H216.2M199.8,334.8V338.8M216.2,334.8V338.8" stroke="#111" stroke-width="0.9" fill="none"/>
<text x="31.2" y="339.8" font-size="8.4" fill="#222" text-anchor="end" font-family="'Liberation Sans', sans-serif">2</text>
<line x1="33.8" y1="336.8" x2="36.3" y2="336.8" stroke="#333" stroke-width="0.8"/>
<rect x="36.3" y="355.3" width="173.1" height="12.4" fill="#7f7f7f" stroke="#555" stroke-width="0.5"/>
<path d="M202.3,361.5H216.6M202.3,359.5V363.5M216.6,359.5V363.5" stroke="#111" stroke-width="0.9" fill="none"/>
<text x="31.2" y="364.5" font-size="8.4" fill="#222" text-anchor="end" font-family="'Liberation Sans', sans-serif">3</text>
<line x1="33.8" y1="361.5" x2="36.3" y2="361.5" stroke="#333" stroke-width="0.8"/>
<rect x="36.3" y="380.1" width="174.6" height="12.4" fill="#7f7f7f" stroke="#555" stroke-width="0.5"/>
<path d="M200.9,386.2H220.8M200.9,384.2V388.2M220.8,384.2V388.2" stroke="#111" stroke-width="0.9" fill="none"/>
<text x="31.2" y="389.2" font-size="8.4" fill="#222" text-anchor="end" font-family="'Liberation Sans', sans-serif">4</text>
<line x1="33.8" y1="386.2" x2="36.3" y2="386.2" stroke="#333" stroke-width="0.8"/>
<rect x="36.3" y="404.8" width="175.6" height="12.4" fill="#7f7f7f" stroke="#555" stroke-width="0.5"/>
<path d="M203.7,411.0H220.1M203.7,409.0V413.0M220.1,409.0V413.0" stroke="#111" stroke-width="0.9" fill="none"/>
<text x="31.2" y="414.0" font-size="8.4" fill="#222" text-anchor="end" font-family="'Liberation Sans', sans-serif">5</text>
<line x1="33.8" y1="411.0" x2="36.3" y2="411.0" stroke="#333" stroke-width="0.8"/>
<rect x="36.3" y="429.6" width="177.1" height="12.4" fill="#7f7f7f" stroke="#555" stroke-width="0.5"/>
<path d="M208.0,435.8H218.7M208.0,433.8V437.8M218.7,433.8V437.8" stroke="#111" stroke-width="0.9" fill="none"/>
<text x="31.2" y="438.8" font-size="8.4" fill="#222" text-anchor="end" font-family="'Liberation Sans', sans-serif">6</text>
<line x1="33.8" y1="435.8" x2="36.3" y2="435.8" stroke="#333" stroke-width="0.8"/>
<text x="36.3" y="457" font-size="8.4" fill="#222" text-anchor="middle" font-family="'Liberation Sans', sans-serif">0</text>
<text x="71.9" y="457" font-size="8.4" fill="#222" text-anchor="middle" font-family="'Liberation Sans', sans-serif">10</text>
<text x="107.5" y="457" font-size="8.4" fill="#222" text-anchor="middle" font-family="'Liberation Sans', sans-serif">20</text>
<text x="143.2" y="457" font-size="8.4" fill="#222" text-anchor="middle" font-family="'Liberation Sans', sans-serif">30</text>
<text x="178.8" y="457" font-size="8.4" fill="#222" text-anchor="middle" font-family="'Liberation Sans', sans-serif">40</text>
<text x="214.4" y="457" font-size="8.4" fill="#222" text-anchor="middle" font-family="'Liberation Sans', sans-serif">50</text>
<path d="M36.3,448v-2.5M36.3,300v2.5M54.1,448v-1.5M54.1,300v1.5M71.9,448v-2.5M71.9,300v2.5M89.7,448v-1.5M89.7,300v1.5M107.5,448v-2.5M107.5,300v2.5M125.4,448v-1.5M125.4,300v1.5M143.2,448v-2.5M143.2,300v2.5M161.0,448v-1.5M161.0,300v1.5M178.8,448v-2.5M178.8,300v2.5M196.6,448v-1.5M196.6,300v1.5M214.4,448v-2.5M214.4,300v2.5M232.2,448v-1.5M232.2,300v1.5" stroke="#333" stroke-width="0.8"/>
<text x="128.3" y="469" font-size="9.25" fill="#111" text-anchor="middle" font-family="'Liberation Sans', sans-serif">Mean amount of cells</text>
<text transform="translate(17.2,374) rotate(-90)" font-size="9.2" fill="#111" text-anchor="middle" font-family="'Liberation Sans', sans-serif">Row</text>
<text x="259.6" y="302" font-size="8.5" fill="#333" font-family="'Liberation Sans', sans-serif">(d)</text>
<rect x="288.8" y="301.3" width="199.2" height="146.3" fill="#fff" stroke="#333" stroke-width="0.9"/>
<rect x="297.6" y="319.1" width="16.8" height="128.5" fill="#7f7f7f" stroke="#555" stroke-width="0.5"/>
<path d="M306.0,311.6V326.7M304.0,311.6H308.0M304.0,326.7H308.0" stroke="#111" stroke-width="0.9" fill="none"/>
<text x="306.0" y="458.8" font-size="8.4" fill="#222" text-anchor="middle" font-family="'Liberation Sans', sans-serif">1</text>
<line x1="306.0" y1="447.6" x2="306.0" y2="450.1" stroke="#333" stroke-width="0.8"/>
<rect x="330.7" y="340.8" width="16.8" height="106.8" fill="#7f7f7f" stroke="#555" stroke-width="0.5"/>
<path d="M339.1,330.6V351.1M337.1,330.6H341.1M337.1,351.1H341.1" stroke="#111" stroke-width="0.9" fill="none"/>
<text x="339.1" y="458.8" font-size="8.4" fill="#222" text-anchor="middle" font-family="'Liberation Sans', sans-serif">2</text>
<line x1="339.1" y1="447.6" x2="339.1" y2="450.1" stroke="#333" stroke-width="0.8"/>
<rect x="363.8" y="335.5" width="16.8" height="112.1" fill="#7f7f7f" stroke="#555" stroke-width="0.5"/>
<path d="M372.2,328.4V342.5M370.2,328.4H374.2M370.2,342.5H374.2" stroke="#111" stroke-width="0.9" fill="none"/>
<text x="372.2" y="458.8" font-size="8.4" fill="#222" text-anchor="middle" font-family="'Liberation Sans', sans-serif">3</text>
<line x1="372.2" y1="447.6" x2="372.2" y2="450.1" stroke="#333" stroke-width="0.8"/>
<rect x="396.9" y="332.8" width="16.8" height="114.8" fill="#7f7f7f" stroke="#555" stroke-width="0.5"/>
<path d="M405.3,326.9V338.6M403.3,326.9H407.3M403.3,338.6H407.3" stroke="#111" stroke-width="0.9" fill="none"/>
<text x="405.3" y="458.8" font-size="8.4" fill="#222" text-anchor="middle" font-family="'Liberation Sans', sans-serif">4</text>
<line x1="405.3" y1="447.6" x2="405.3" y2="450.1" stroke="#333" stroke-width="0.8"/>
<rect x="430.0" y="337.9" width="16.8" height="109.7" fill="#7f7f7f" stroke="#555" stroke-width="0.5"/>
<path d="M438.4,334.7V341.1M436.4,334.7H440.4M436.4,341.1H440.4" stroke="#111" stroke-width="0.9" fill="none"/>
<text x="438.4" y="458.8" font-size="8.4" fill="#222" text-anchor="middle" font-family="'Liberation Sans', sans-serif">5</text>
<line x1="438.4" y1="447.6" x2="438.4" y2="450.1" stroke="#333" stroke-width="0.8"/>
<rect x="463.1" y="318.9" width="16.8" height="128.7" fill="#7f7f7f" stroke="#555" stroke-width="0.5"/>
<path d="M471.5,310.9V326.9M469.5,310.9H473.5M469.5,326.9H473.5" stroke="#111" stroke-width="0.9" fill="none"/>
<text x="471.5" y="458.8" font-size="8.4" fill="#222" text-anchor="middle" font-family="'Liberation Sans', sans-serif">6</text>
<line x1="471.5" y1="447.6" x2="471.5" y2="450.1" stroke="#333" stroke-width="0.8"/>
<text x="286.5" y="450.6" font-size="8.4" fill="#222" text-anchor="end" font-family="'Liberation Sans', sans-serif">0</text>
<text x="286.5" y="426.2" font-size="8.4" fill="#222" text-anchor="end" font-family="'Liberation Sans', sans-serif">10</text>
<text x="286.5" y="401.9" font-size="8.4" fill="#222" text-anchor="end" font-family="'Liberation Sans', sans-serif">20</text>
<text x="286.5" y="377.5" font-size="8.4" fill="#222" text-anchor="end" font-family="'Liberation Sans', sans-serif">30</text>
<text x="286.5" y="353.1" font-size="8.4" fill="#222" text-anchor="end" font-family="'Liberation Sans', sans-serif">40</text>
<text x="286.5" y="328.7" font-size="8.4" fill="#222" text-anchor="end" font-family="'Liberation Sans', sans-serif">50</text>
<text x="286.5" y="304.4" font-size="8.4" fill="#222" text-anchor="end" font-family="'Liberation Sans', sans-serif">60</text>
<path d="M288.8,447.6h2.5M488,447.6h-2.5M288.8,435.4h1.5M488,435.4h-1.5M288.8,423.2h2.5M488,423.2h-2.5M288.8,411.0h1.5M488,411.0h-1.5M288.8,398.9h2.5M488,398.9h-2.5M288.8,386.7h1.5M488,386.7h-1.5M288.8,374.5h2.5M488,374.5h-2.5M288.8,362.3h1.5M488,362.3h-1.5M288.8,350.1h2.5M488,350.1h-2.5M288.8,337.9h1.5M488,337.9h-1.5M288.8,325.7h2.5M488,325.7h-2.5M288.8,313.5h1.5M488,313.5h-1.5M288.8,301.4h2.5M488,301.4h-2.5" stroke="#333" stroke-width="0.8"/>
<text x="387.3" y="470.3" font-size="9.2" fill="#111" text-anchor="middle" font-family="'Liberation Sans', sans-serif">Column</text>
<text transform="translate(269.7,369.5) rotate(-90)" font-size="9.2" fill="#111" text-anchor="middle" font-family="'Liberation Sans', sans-serif">Mean amount of cells</text>
</svg></body></html>
